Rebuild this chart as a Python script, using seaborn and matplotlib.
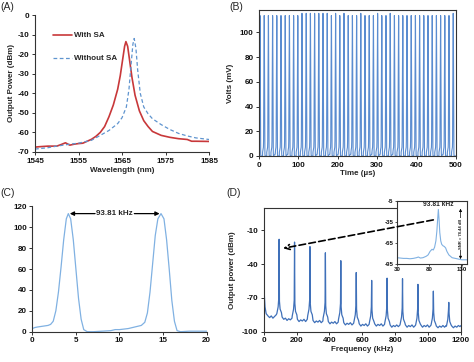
import numpy as np
import matplotlib
matplotlib.use("Agg")
import matplotlib.pyplot as plt
import seaborn as sns
from matplotlib.patches import ConnectionPatch

# ---------------- data ----------------
# (A) optical spectrum
wl_sa = [1545, 1546, 1548, 1550, 1551, 1552, 1553, 1554, 1555, 1556, 1557, 1558, 1559,
         1560, 1561, 1562, 1563, 1564, 1564.6, 1565.2, 1565.6, 1565.9, 1566.3, 1566.8,
         1567.3, 1568, 1569, 1570, 1571, 1572, 1574, 1576, 1578, 1580, 1581, 1582, 1585]
db_sa = [-67.5, -67.3, -67, -67, -66.2, -65.3, -66.5, -66, -65.7, -65.5, -64.5, -63.5, -62,
         -60, -57, -52, -46, -38, -31, -22, -16, -13.6, -16, -24,
         -32, -41, -49, -54, -57, -59.5, -61.5, -62.5, -63.2, -63.6, -64.5, -64.5, -64.6]
wl_nosa = [1545, 1548, 1550, 1553, 1555, 1558, 1560, 1562, 1564, 1565, 1566, 1566.6,
           1567.1, 1567.5, 1567.8, 1568.2, 1568.6, 1569.2, 1570, 1571, 1572, 1574, 1576,
           1578, 1580, 1582, 1585]
db_nosa = [-68.5, -67.8, -67, -66, -65.5, -64, -61.5, -59, -55.5, -52.5, -47, -38,
           -25, -15, -12, -17, -28, -40, -47, -50.5, -53, -56, -58.5,
           -60.5, -61.8, -62.8, -63.6]

# (B) pulse train: pulse times (us) and peak heights (mV)
pulse_t = [2.5, 13.2, 23.8, 34.5, 45.1, 55.8, 66.5, 77.1, 87.8, 98.4, 109.1, 119.8,
           130.4, 141.1, 151.7, 162.4, 173.1, 183.7, 194.4, 205.0, 215.7, 226.4, 237.0,
           247.7, 258.3, 269.0, 279.7, 290.3, 301.0, 311.6, 322.3, 333.0, 343.6, 354.3,
           364.9, 375.6, 386.3, 396.9, 407.6, 418.2, 428.9, 439.6, 450.2, 460.9, 471.5,
           482.2, 492.9]
pulse_h = [113.5, 113.5, 113.5, 113.5, 113.5, 113.5, 113.5, 113.5, 113.5, 113.5, 115.3, 115.3,
           115.3, 115.3, 115.3, 115.3, 115.3, 113.5, 115.3, 113.5, 115.3, 113.5, 113.5,
           113.5, 115.3, 113.5, 113.5, 113.5, 115.3, 113.5, 113.5, 115.3, 113.5, 113.5,
           113.5, 113.5, 113.5, 113.5, 113.5, 113.5, 113.5, 113.5, 113.5, 113.5, 113.5,
           113.5, 115.3]
# single pulse shape (offset from peak in us, level in mV for a 113 mV pulse)
pulse_dt = [-4.1, -3.0, -2.0, -1.6, -1.2, -0.9, -0.55, -0.25, 0.0, 0.25, 0.55, 0.9, 1.2, 1.5, 1.8, 2.2, 6.5]
pulse_mv = [3, 5, 7, 12, 32, 60, 90, 110, 113, 110, 88, 60, 32, 12, 2, 0, 0]

# (C) zoom on two pulses
c_t = [0, 0.3, 0.6, 1.0, 1.4, 1.8, 2.1, 2.4, 2.7, 3.0, 3.3, 3.6, 3.9, 4.13, 4.4, 4.7,
       5.0, 5.3, 5.6, 5.9, 6.3, 7.0, 8.0, 9.0, 9.5, 10.0, 10.5, 11.0, 11.5, 12.0, 12.5,
       12.9, 13.2, 13.5, 13.8, 14.1, 14.4, 14.76, 15.1, 15.4, 15.7, 16.0, 16.3, 16.6,
       17.0, 18.0, 19.0, 20.0]
c_mv = [3, 4, 4.5, 5, 5.5, 6, 7, 10, 20, 38, 62, 88, 108, 113, 108, 88,
        60, 32, 12, 2, 0, 0, 0.5, 1, 2, 2, 2.5, 3, 4, 5, 6,
        9, 18, 38, 65, 92, 108, 113, 108, 88, 60, 30, 10, 1,
        0, 0.5, 0.5, 0.5]

# (D) RF spectrum: harmonics, their peak levels and skirt levels
harm_f = [93.8, 187.6, 281.4, 375.2, 469.0, 562.9, 656.7, 750.5, 844.3, 938.1, 1031.9, 1125.7]
harm_db = [-18, -20.5, -24.5, -30, -37, -47.5, -54.5, -52.5, -53, -58, -64, -74]
harm_sh = [-78, -80, -80, -82, -83, -85, -86, -86, -87, -88, -88, -89]
skirt_df = [-14, -6, -2, 0, 2, 6, 14]
skirt_rel = [-6, 0, 8, None, 5, -2, -5]
dc_f = [0, 1, 3, 8, 15]
dc_db = [-60, -13, -65, -78, -84]
floor_f = [26, 36, 46, 56, 66, 76, 112, 122, 132, 142, 152, 162, 172, 205, 215, 225, 235, 245,
           255, 265, 300, 310, 320, 330, 340, 350, 360, 393, 403, 413, 423, 433, 443, 453,
           487, 497, 507, 517, 527, 537, 547, 581, 591, 601, 611, 621, 631, 641, 675, 685,
           695, 705, 715, 725, 735, 769, 779, 789, 799, 809, 819, 829, 862, 872, 882, 892,
           902, 912, 922, 956, 966, 976, 986, 996, 1006, 1016, 1050, 1060, 1070, 1080,
           1090, 1100, 1110, 1144, 1154, 1164, 1174, 1184, 1194, 1200]
floor_db = [-86, -87.5, -86, -88, -86.5, -85, -87, -89, -88, -90, -88.5, -89.5, -88, -89, -91, -89.5, -90.5, -89,
            -91, -89, -90, -92, -90.5, -91.5, -90, -92, -90.5, -91, -93, -91.5, -92.5, -91, -93, -91.5,
            -92, -94, -92.5, -93.5, -92, -94, -92.5, -93, -95, -93.5, -94.5, -93, -95, -93.5, -93, -95,
            -93.5, -94.5, -93, -95, -93.5, -94, -96, -94.5, -95.5, -94, -95.5, -94, -94, -96, -94.5, -95.5,
            -94, -96, -94.5, -94, -96, -94.5, -95.5, -94, -96, -94.5, -95, -96.5, -95, -96, -94.5,
            -96, -94.5, -95, -96.5, -95, -96, -94.5, -95.5, -94.5]

# inset of the first harmonic
in_f = [30, 35, 40, 45, 50, 55, 60, 63, 66, 70, 75, 78, 81, 84, 86, 88, 90, 91.5, 92.8,
        93.81, 94.8, 96, 97.5, 99, 101, 103, 105, 107, 110, 115, 120, 125, 130, 135, 138]
in_db = [-86, -86.5, -87, -87, -87.5, -87, -86, -85, -86.5, -86, -84, -82, -77, -74, -75,
         -71, -62, -48, -30, -17, -30, -50, -62, -67, -69, -70, -72, -77, -82, -86, -87,
         -88, -89, -89, -89]

# ---------------- build traces from the values above ----------------
b_t, b_mv = [], []
for t0, h in zip(pulse_t, pulse_h):
    for dt, v in zip(pulse_dt, pulse_mv):
        b_t.append(t0 + dt)
        b_mv.append(v * h / 113.0)

d_pts = list(zip(dc_f, dc_db)) + list(zip(floor_f, floor_db))
for f0, pk, sh in zip(harm_f, harm_db, harm_sh):
    for df, rel in zip(skirt_df, skirt_rel):
        d_pts.append((f0 + df, pk if rel is None else sh + rel))
d_pts.sort()
d_f = [p[0] for p in d_pts]
d_db = [p[1] for p in d_pts]

# ---------------- figure ----------------
sns.set_style("ticks")
plt.rcParams['font.family'] = ['Liberation Sans', 'DejaVu Sans']
plt.rcParams['font.weight'] = 'bold'
plt.rcParams['axes.labelweight'] = 'bold'
plt.rcParams['axes.unicode_minus'] = False
plt.rcParams['axes.linewidth'] = 0.8
plt.rcParams['axes.edgecolor'] = '#333333'

W, H = 474, 362
fig = plt.figure(figsize=(W / 100, H / 100), dpi=100)


def box(l, t, r, b):
    return [l / W, 1 - b / H, (r - l) / W, (b - t) / H]


def bold_ticks(ax):
    for lab in ax.get_xticklabels() + ax.get_yticklabels():
        lab.set_fontweight('bold')


fs = 5.8
tick_kw = dict(direction='out', length=2.5, width=0.6, pad=1.5, labelsize=fs, colors='#111111')

# (A)
axA = fig.add_axes(box(35, 15, 209, 152))
sns.lineplot(x=wl_sa, y=db_sa, ax=axA, color='#c8383a', lw=1.2, label='With SA', sort=False)
sns.lineplot(x=wl_nosa, y=db_nosa, ax=axA, color='#5f94cf', lw=0.9, label='Without SA',
             sort=False, linestyle=(0, (3, 2)))
axA.set_xlim(1545, 1585)
axA.set_ylim(-70, 0)
axA.set_xticks([1545, 1555, 1565, 1575, 1585])
axA.set_yticks(np.arange(-70, 1, 10))
axA.set_xlabel('Wavelength (nm)', fontsize=fs, labelpad=2)
axA.set_ylabel('Output Power (dBm)', fontsize=fs, labelpad=2)
axA.tick_params(**tick_kw)
sns.despine(ax=axA)
leg = axA.legend(loc='upper left', bbox_to_anchor=(0.06, 0.93), frameon=False,
                 prop=dict(size=fs, weight='bold'),
                 labelspacing=1.9, handlelength=2.4, handletextpad=0.3)

# (B)
axB = fig.add_axes(box(259, 10, 456, 156))
sns.lineplot(x=b_t, y=b_mv, ax=axB, color='#5a8cd0', lw=0.8, sort=False)
axB.set_xlim(0, 500)
axB.set_ylim(0, 118)
axB.set_xticks(np.arange(0, 501, 100))
axB.set_yticks(np.arange(0, 101, 20))
axB.set_xlabel('Time (\u00b5s)', fontsize=fs, labelpad=1)
axB.set_ylabel('Volts (mV)', fontsize=fs, labelpad=4)
axB.tick_params(**tick_kw)

# (C)
axC = fig.add_axes(box(32.3, 206.3, 206.7, 331.7))
sns.lineplot(x=c_t, y=c_mv, ax=axC, color='#80b1e2', lw=0.9, sort=False)
axC.set_xlim(0, 20)
axC.set_ylim(0, 120)
axC.set_xticks([0, 5, 10, 15, 20])
axC.set_yticks(np.arange(0, 121, 20))
axC.set_xlabel('')
axC.set_ylabel('')
axC.tick_params(**tick_kw)
sns.despine(ax=axC)
axC.text(9.45, 113, '93.81 kHz', ha='center', va='center', fontsize=fs, fontweight='bold')
arr = dict(arrowstyle='-|>', color='black', lw=0.9, mutation_scale=6, shrinkA=0, shrinkB=0)
axC.annotate('', xy=(4.3, 113), xytext=(7.2, 113), arrowprops=arr)
axC.annotate('', xy=(14.6, 113), xytext=(11.7, 113), arrowprops=arr)

# (D)
axD = fig.add_axes(box(263.7, 207.7, 461, 331.7))
sns.lineplot(x=d_f, y=d_db, ax=axD, color='#3f70b9', lw=0.9, sort=False)
axD.set_xlim(0, 1200)
axD.set_ylim(-100, 10)
axD.set_xticks(np.arange(0, 1201, 200))
axD.set_yticks([-100, -70, -40, -10])
axD.set_xlabel('Frequency (kHz)', fontsize=fs, labelpad=1)
axD.set_ylabel('Output power (dBm)', fontsize=fs, labelpad=4)
axD.tick_params(**tick_kw)

axI = fig.add_axes(box(397, 201, 467, 264))
axI.set_facecolor('white')
sns.lineplot(x=in_f, y=in_db, ax=axI, color='#80b1e2', lw=0.8, sort=False)
axI.set_xlim(30, 138)
axI.set_ylim(-95, -5)
axI.set_xticks([30, 80, 130])
axI.set_yticks([-95, -65, -35, -5])
axI.set_xlabel('')
axI.set_ylabel('')
axI.tick_params(direction='out', length=1.5, width=0.5, pad=1, labelsize=4.4, colors='#111111')
axI.text(93.8, -10, '93.81 kHz', ha='center', va='center', fontsize=4.8, fontweight='bold')
axI.annotate('', xy=(128, -12), xytext=(128, -92),
             arrowprops=dict(arrowstyle='<|-|>', color='black', lw=0.5, mutation_scale=4))
axI.text(128, -52, 'SNR = 78.44 dB', rotation=90, ha='center', va='center', fontsize=3,
         bbox=dict(facecolor='white', edgecolor='none', pad=0.3))

for ax in (axA, axB, axC, axD, axI):
    bold_ticks(ax)

con = ConnectionPatch(xyA=(86, -32), coordsA=axI.transData, xyB=(118, -26), coordsB=axD.transData,
                      arrowstyle='->', linestyle=(0, (4, 2)), lw=1.2, color='black', mutation_scale=9)
fig.add_artist(con)

# panel letters
for x, y, s in [(0, 7, '(A)'), (229, 7, '(B)'), (0, 193, '(C)'), (226, 193, '(D)')]:
    fig.text(x / W, 1 - y / H, s, fontsize=7.5, fontweight='normal', va='center', ha='left')

fig.savefig('out.png', dpi=100)
